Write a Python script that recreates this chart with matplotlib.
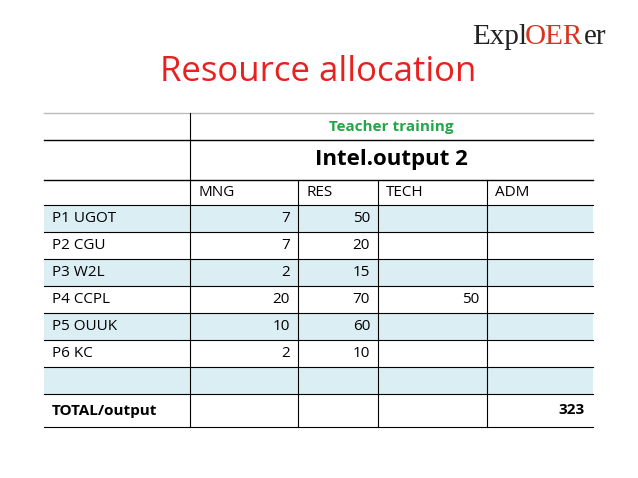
import matplotlib.pyplot as plt
from matplotlib.patches import Rectangle

plt.rcParams['font.family'] = ['Open Sans', 'DejaVu Sans']

columns = ["MNG", "RES", "TECH", "ADM"]
row_labels = ["P1 UGOT", "P2 CGU", "P3 W2L", "P4 CCPL", "P5 OUUK", "P6 KC", "", "TOTAL/output"]
values = [
    [7, 50, None, None],
    [7, 20, None, None],
    [2, 15, None, None],
    [20, 70, 50, None],
    [10, 60, None, None],
    [2, 10, None, None],
    [None, None, None, None],
    [None, None, None, 323],
]
shaded = [True, False, True, False, True, False, True, False]

col_x = [44, 190, 298, 378, 487, 593]
row_y = [205, 232, 259, 286, 313, 340, 367, 394, 427]
blue = "#dbeef4"

fig = plt.figure(figsize=(6.38, 4.78), dpi=100)
ax = fig.add_axes([0, 0, 1, 1])
ax.set_xlim(0, 638)
ax.set_ylim(478, 0)
ax.axis("off")

ax.text(318, 72, "Resource allocation", color="#e8211f", fontsize=25,
        ha="center", va="center")
logo = dict(fontsize=21, family="Liberation Serif", va="center")
ax.text(472, 37, "Expl", color="#222222", ha="left", **logo)
ax.text(525, 37, "OER", color="#d9341f", ha="left", **logo)
ax.text(584, 37, "er", color="#222222", ha="left", **logo)

# shading
for i, s in enumerate(shaded):
    if s:
        ax.add_patch(Rectangle((col_x[0], row_y[i]), col_x[-1] - col_x[0],
                               row_y[i + 1] - row_y[i], color=blue, lw=0))

# grid lines
ax.plot([44, 593], [113, 113], color="#bbbbbb", lw=1)
ax.plot([44, 593], [140, 140], color="black", lw=1)
ax.plot([44, 593], [180, 180], color="black", lw=1)
ax.plot([190, 190], [113, 427], color="black", lw=0.8)
for x in col_x[2:-1]:
    ax.plot([x, x], [180, 427], color="black", lw=0.8)
for y in row_y:
    ax.plot([44, 593], [y, y], color="black", lw=0.8)

ax.text(391, 127, "Teacher training", color="#22a64a", fontsize=11,
        weight="bold", ha="center", va="center")
ax.text(391, 160, "Intel.output 2", color="black", fontsize=16,
        weight="bold", ha="center", va="center")
for j, c in enumerate(columns):
    ax.text(col_x[j + 1] + 8, 193, c, fontsize=11, ha="left", va="center")

for i, lab in enumerate(row_labels):
    yc = (row_y[i] + row_y[i + 1]) / 2
    bold = "bold" if lab.startswith("TOTAL") else "normal"
    ax.text(52, yc, lab, fontsize=11, ha="left", va="center", weight=bold)
    for j, v in enumerate(values[i]):
        if v is not None:
            ax.text(col_x[j + 2] - 8, yc, str(v), fontsize=11, ha="right",
                    va="center", weight=bold)

fig.savefig("out.png", dpi=100)
